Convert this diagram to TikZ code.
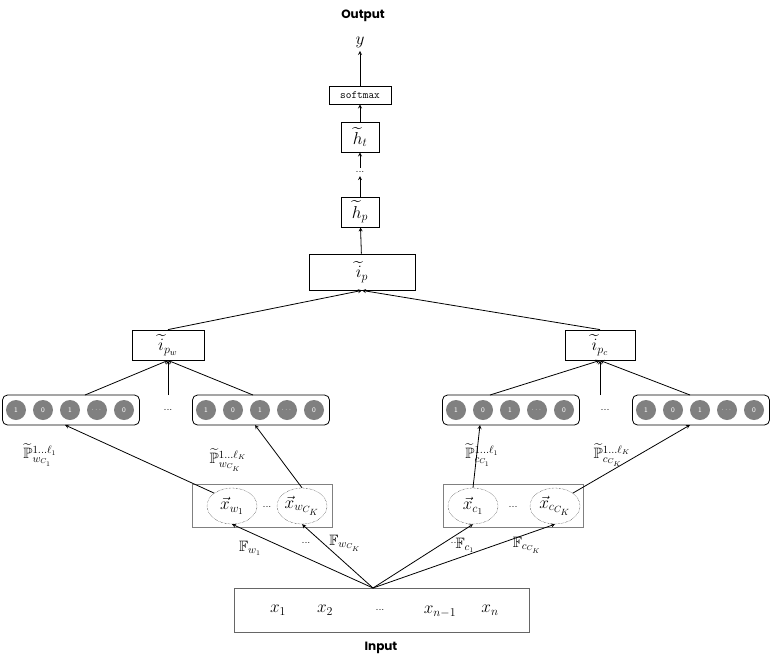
\documentclass[tikz,border=0pt]{standalone}
\usepackage{amsmath, amssymb}
\usepackage{fontspec}
\newfontfamily\labelfont{Poppins}
\usepackage{tikz}
\usetikzlibrary{shapes.geometric, arrows, positioning}
\tikzset{
    layer/.style={rectangle, draw=black, thick, inner sep=0pt, align=center},
    onehot/.style={rectangle, draw=black, thick, rounded corners=5pt, minimum width=137pt, minimum height=30pt},
    bit/.style={circle, fill=black!50, minimum size=20pt, inner sep=0pt, text=white, font=\sffamily\fontsize{7}{7}\selectfont},
    group/.style={rectangle, draw=black!50, minimum width=140pt, minimum height=43pt},
    feat/.style={ellipse, draw=black, densely dotted, minimum width=50pt, minimum height=36pt, inner sep=0pt},
    small/.style={font=\fontsize{11}{12}\selectfont},
    arrow/.style={->, >=stealth, thick}
}
\begin{document}
\begin{tikzpicture}[x=1pt, y=-1pt, font=\fontsize{18}{20}\selectfont]
        \useasboundingbox (0,0) rectangle (777,662);

        % --- Top chain ---
        \node (Out) [font=\labelfont\bfseries\fontsize{12}{14}\selectfont] at (363,16) {Output};
        \node (y) at (360,42) {$y$};
        \node (Soft) [layer, minimum width=62pt, minimum height=18pt, font=\ttfamily\fontsize{11}{12}\selectfont] at (360,95) {softmax};
        \node (Ht) [layer, minimum width=38pt, minimum height=30pt] at (360,137) {$\widetilde{h}_t$};
        \node (Dots) [small] at (360,172) {...};
        \node (Hp) [layer, minimum width=38pt, minimum height=30pt] at (360,212) {$\widetilde{h}_p$};
        \node (Ip) [layer, minimum width=106pt, minimum height=36pt] at (362,272) {$\widetilde{i}_p$};

        % --- Second level ---
        \node (Ipw) [layer, minimum width=72pt, minimum height=30pt] at (168,345) {$\widetilde{i}_{p_w}$};
        \node (Ipc) [layer, minimum width=70pt, minimum height=30pt] at (600,345) {$\widetilde{i}_{p_c}$};

        % --- One-hot boxes ---
        \foreach \name/\cx in {W1/71, WK/261, C1/511, CK/701} {
            \node (\name) [onehot] at (\cx,410) {};
            \foreach \v [count=\k] in {1,0,1,$\cdots$,0}
                \node (\name-\k) [bit] at (\cx-82+27*\k,410) {\v};
        }
        \node (DotsW) [small] at (168,410) {...};
        \node (DotsC) [small] at (605,410) {...};

        % --- Feature groups ---
        \node (GW) [group] at (262,506) {};
        \node (XW1) [feat] at (232,506) {$\vec{x}_{w_1}$};
        \node (XWK) [feat] at (302,506) {$\vec{x}_{w_{C_K}}$};
        \node [small] at (267,507) {...};
        \node (GC) [group] at (513,506) {};
        \node (XC1) [feat] at (473,506) {$\vec{x}_{c_1}$};
        \node (XCK) [feat] at (555,506) {$\vec{x}_{c_{C_K}}$};
        \node [small] at (513,507) {...};

        % --- Input ---
        \node (In) [layer, draw=black!60, minimum width=295pt, minimum height=44pt] at (382,610) {};
        \node at (278,610) {$x_1$};
        \node at (325,610) {$x_2$};
        \node [small] at (380,610) {...};
        \node at (440,612) {$x_{n-1}$};
        \node at (490,610) {$x_n$};
        \node (InLab) [font=\labelfont\bfseries\fontsize{12}{14}\selectfont] at (381,648) {Input};
        \coordinate (Src) at (373,588);

        % --- Arrows ---
        \draw [arrow] (Soft) -- (y);
        \draw [arrow] (Ht) -- (Soft);
        \draw [arrow] (Dots) -- (Ht);
        \draw [arrow] (Hp) -- (Dots);
        \draw [arrow] (Ip) -- (Hp);
        \draw [arrow] (Ipw.north) -- (Ip.south);
        \draw [arrow] (Ipc.north) -- (Ip.south);

        \draw [arrow] (85,395) -- (Ipw.south);
        \draw [arrow] (168,395) -- (Ipw.south);
        \draw [arrow] (253,395) -- (Ipw.south);
        \draw [arrow] (490,395) -- (Ipc.south);
        \draw [arrow] (600,395) -- (Ipc.south);
        \draw [arrow] (690,395) -- (Ipc.south);

        \draw [arrow] (XW1.north west) -- (65,425);
        \draw [arrow] (XWK.north) -- (255,425);
        \draw [arrow] (XC1.north) -- (480,425);
        \draw [arrow] (XCK.north east) -- (690,425);
        \node (PW1) [font=\fontsize{15}{16}\selectfont] at (40,455) {$\widetilde{\mathbb{P}}^{1\ldots\ell_1}_{w_{C_1}}$};
        \node (PWK) [font=\fontsize{15}{16}\selectfont] at (228,460) {$\widetilde{\mathbb{P}}^{1\ldots\ell_K}_{w_{C_K}}$};
        \node (PC1) [font=\fontsize{15}{16}\selectfont] at (482,455) {$\widetilde{\mathbb{P}}^{1\ldots\ell_1}_{c_{C_1}}$};
        \node (PCK) [font=\fontsize{15}{16}\selectfont] at (612,455) {$\widetilde{\mathbb{P}}^{1\ldots\ell_K}_{c_{C_K}}$};

        \draw [arrow] (Src) -- (XW1.south);
        \draw [arrow] (Src) -- (XWK.south);
        \draw [arrow] (Src) -- (XC1.south);
        \draw [arrow] (Src) -- (XCK.south);
        \node (FW1) [font=\fontsize{15}{16}\selectfont] at (250,548) {$\mathbb{F}_{w_1}$};
        \node (FWK) [font=\fontsize{15}{16}\selectfont] at (345,543) {$\mathbb{F}_{w_{C_K}}$};
        \node (FC1) [font=\fontsize{15}{16}\selectfont] at (465,545) {$\mathbb{F}_{c_1}$};
        \node (FCK) [font=\fontsize{15}{16}\selectfont] at (527,545) {$\mathbb{F}_{c_{C_K}}$};
        \node [small] at (306,543) {...};
        \node [small] at (455,543) {...};
    \end{tikzpicture}
\end{document}
